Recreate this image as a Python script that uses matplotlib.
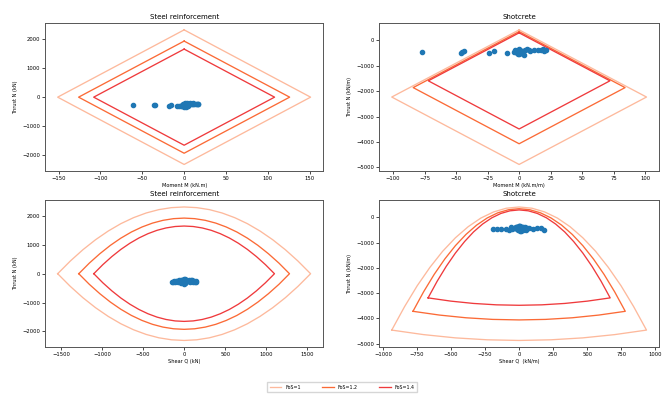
import numpy as np
import matplotlib
matplotlib.use("Agg")
import matplotlib.pyplot as plt

# ---------------- data ----------------
fos_labels = ["FoS=1", "FoS=1.2", "FoS=1.4"]
fos_colors = ["#fdb99c", "#fb6a36", "#ef3a3c"]

# Steel reinforcement M-N (diamond vertices)
steel_mn_M = [[0, 151, 0, -151, 0], [0, 126, 0, -126, 0], [0, 108, 0, -108, 0]]
steel_mn_N = [[2310, 0, -2310, 0, 2310], [1925, 0, -1925, 0, 1925], [1650, 0, -1650, 0, 1650]]

# Shotcrete M-N
shot_mn_M = [[0, 101, 0, -101, 0], [0, 84, 0, -84, 0], [0, 72, 0, -72, 0]]
shot_mn_N = [[410, -2230, -4880, -2230, 410], [342, -1860, -4067, -1860, 342],
             [293, -1593, -3486, -1593, 293]]

# Steel reinforcement Q-N (one quarter of each curve, from N axis to Q axis)
steel_qn_Q = [[0, 154, 308, 462, 616, 770, 924, 1078, 1232, 1386, 1540],
              [0, 128, 257, 385, 513, 642, 770, 898, 1026, 1155, 1283],
              [0, 110, 220, 330, 440, 550, 660, 770, 880, 990, 1100]]
steel_qn_N = [[2310, 2287, 2218, 2102, 1940, 1733, 1478, 1178, 832, 439, 0],
              [1925, 1906, 1848, 1752, 1617, 1444, 1232, 982, 693, 366, 0],
              [1650, 1634, 1584, 1502, 1386, 1238, 1056, 842, 594, 314, 0]]

# Shotcrete Q-N: upper branch (top -> corner) and bottom branch (centre -> corner)
shot_qn_upQ = [[0, 94, 187, 281, 374, 468, 562, 655, 749, 842, 936],
               [0, 78, 156, 234, 312, 390, 468, 546, 624, 702, 780],
               [0, 67, 134, 201, 268, 335, 401, 468, 535, 602, 669]]
shot_qn_upN = [[410, 361, 215, -28, -369, -808, -1343, -1976, -2707, -3535, -4460],
               [342, 301, 180, -23, -307, -673, -1119, -1647, -2256, -2946, -3717],
               [293, 258, 154, -20, -264, -577, -959, -1412, -1934, -2525, -3186]]
shot_qn_loQ = [[0, 234, 468, 702, 936], [0, 195, 390, 585, 780], [0, 167, 335, 502, 669]]
shot_qn_loN = [[-4870, -4844, -4768, -4639, -4460], [-4058, -4037, -3973, -3866, -3717],
               [-3479, -3461, -3406, -3314, -3186]]

# Lining forces
steel_M = [-61, -36, -35, -18, -16, -9, -6, -4, -3, -2, -1, 0, 0, 1, 1, 2, 2, 3, 3, 4, 5, 5,
           6, 7, 8, 9, 10, 11, 12, 14, 15, 16, 17]
steel_N = [-280, -285, -265, -300, -255, -300, -290, -320, -260, -300, -230, -350, -280, -200,
           -310, -250, -330, -220, -290, -200, -260, -300, -230, -210, -250, -230, -210, -250,
           -220, -230, -240, -220, -230]
steel_Q = [-145, 150, -120, 130, -95, 110, -75, 5, 90, -55, -20, 0, 70, -5, -35, 50, 15, 25,
           -130, 10, 120, -110, -40, 0, 35, -60, 20, 140, -15, 60, -85, 80, 100]

shot_M = [-77, -46, -45, -44, -24, -20, -10, -4, -3, -2, -2, -1, 0, 0, 1, 1, 2, 3, 3, 4, 5, 6,
          8, 9, 12, 15, 17, 19, 20, 21, -1, 2]
shot_N = [-450, -490, -470, -420, -480, -420, -480, -460, -380, -500, -430, -400, -350, -550,
          -450, -380, -500, -520, -420, -560, -400, -360, -380, -420, -370, -380, -400, -360,
          -410, -380, -520, -450]
shot_Q = [-189, 186, -160, 160, -130, 130, -100, 100, -20, -75, 75, 10, 0, 5, -50, 20, 50, -10,
          -30, 15, -5, 8, 30, -40, -12, 40, -25, -3, 60, -60, 25, -15]

# ---------------- figure ----------------
plt.rcParams['font.family'] = ['DejaVu Sans']
fig = plt.figure(figsize=(6.72, 3.99), dpi=100)
ax1 = fig.add_axes([0.067, 0.571, 0.414, 0.371])
ax2 = fig.add_axes([0.564, 0.571, 0.417, 0.371])
ax3 = fig.add_axes([0.067, 0.130, 0.414, 0.368])
ax4 = fig.add_axes([0.564, 0.130, 0.417, 0.368])

lw = 0.95
handles = []
for i in range(3):
    h, = ax1.plot(steel_mn_M[i], steel_mn_N[i], color=fos_colors[i], lw=lw, label=fos_labels[i])
    handles.append(h)
    ax2.plot(shot_mn_M[i], shot_mn_N[i], color=fos_colors[i], lw=lw)

    q = np.array(steel_qn_Q[i]); n = np.array(steel_qn_N[i])
    Q = np.concatenate([-q[::-1], q[1:], q[::-1][1:], -q[1:]])
    N = np.concatenate([n[::-1], n[1:], -n[::-1][1:], -n[1:]])
    ax3.plot(Q, N, color=fos_colors[i], lw=lw)

    uq = np.array(shot_qn_upQ[i]); un = np.array(shot_qn_upN[i])
    lq = np.array(shot_qn_loQ[i]); ln = np.array(shot_qn_loN[i])
    Q = np.concatenate([-uq[::-1], uq[1:], lq[::-1][1:], -lq[1:]])
    N = np.concatenate([un[::-1], un[1:], ln[::-1][1:], ln[1:]])
    ax4.plot(Q, N, color=fos_colors[i], lw=lw)

ms = 9
ax1.scatter(steel_M, steel_N, s=ms, color="#1f77b4", zorder=3)
ax2.scatter(shot_M, shot_N, s=ms, color="#1f77b4", zorder=3)
ax3.scatter(steel_Q, steel_N, s=ms, color="#1f77b4", zorder=3)
ax4.scatter(shot_Q, shot_N, s=ms, color="#1f77b4", zorder=3)

titles = ["Steel reinforcement", "Shotcrete", "Steel reinforcement", "Shotcrete"]
xlabels = ["Moment M (kN.m)", "Moment M (kN.m/m)", "Shear Q (kN)", "Shear Q  (kN/m)"]
ylabels = ["Thrust N (kN)", "Thrust N (kN/m)", "Thrust N (kN)", "Thrust N (kN/m)"]
for ax, t, xl, yl in zip([ax1, ax2, ax3, ax4], titles, xlabels, ylabels):
    ax.set_title(t, fontsize=5, pad=3)
    ax.set_xlabel(xl, fontsize=3.6, labelpad=1.5)
    ax.set_ylabel(yl, fontsize=3.6, labelpad=3)
    ax.tick_params(labelsize=3.8, length=2, width=0.5, pad=1.5)
    for s in ax.spines.values():
        s.set_linewidth(0.7)
        s.set_color("#555555")

ax1.set_xticks([-150, -100, -50, 0, 50, 100, 150])
ax2.set_xticks([-100, -75, -50, -25, 0, 25, 50, 75, 100])
ax3.set_xticks([-1500, -1000, -500, 0, 500, 1000, 1500])
ax4.set_xticks([-1000, -750, -500, -250, 0, 250, 500, 750, 1000])

fig.legend(handles=handles, loc="center", bbox_to_anchor=(0.509, 0.030), ncol=3,
           fontsize=3.4, frameon=True, handlelength=2.5, columnspacing=4.5,
           borderpad=0.6, fancybox=False, edgecolor="#cccccc")

fig.savefig("out.png", dpi=100)
